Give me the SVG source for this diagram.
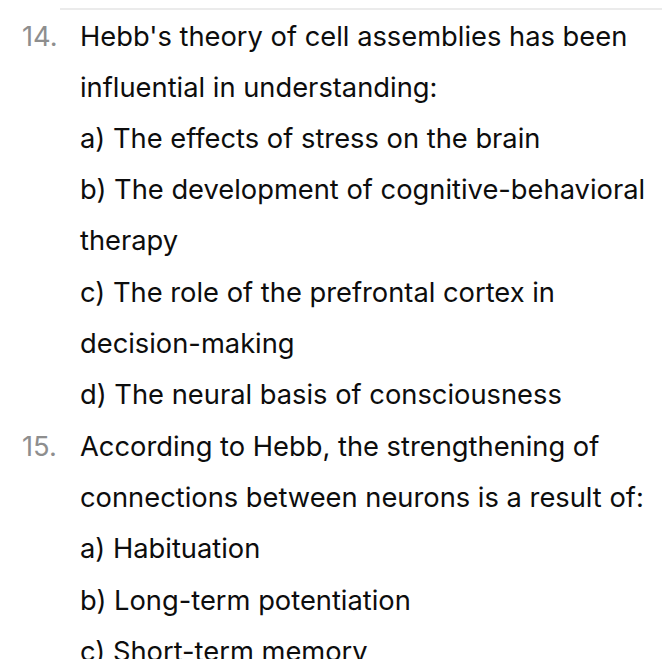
<svg xmlns="http://www.w3.org/2000/svg" width="662" height="659" viewBox="0 0 662 659">
<style>
text{font-family:Inter,"Liberation Sans",sans-serif;font-size:27.3px;fill:#0d0d0d}
.n{fill:#8e8e8e}
</style>
<rect width="662" height="659" fill="#fff"/>
<line x1="60" y1="9" x2="662" y2="9" stroke="#e5e5e5" stroke-width="1.5"/>
<g id="q14">
<text class="n" x="22" y="46">14.</text>
<text x="80" y="46">Hebb's theory of cell assemblies has been</text>
<text x="80" y="97">influential in understanding:</text>
<text x="80" y="148">a) The effects of stress on the brain</text>
<text x="80" y="199">b) The development of cognitive-behavioral</text>
<text x="80" y="250">therapy</text>
<text x="80" y="302">c) The role of the prefrontal cortex in</text>
<text x="80" y="353">decision-making</text>
<text x="80" y="404">d) The neural basis of consciousness</text>
</g>
<g id="q15">
<text class="n" x="22" y="456">15.</text>
<text x="80" y="456">According to Hebb, the strengthening of</text>
<text x="80" y="507">connections between neurons is a result of:</text>
<text x="80" y="558">a) Habituation</text>
<text x="80" y="610">b) Long-term potentiation</text>
<text x="80" y="661">c) Short-term memory</text>
</g>
</svg>
